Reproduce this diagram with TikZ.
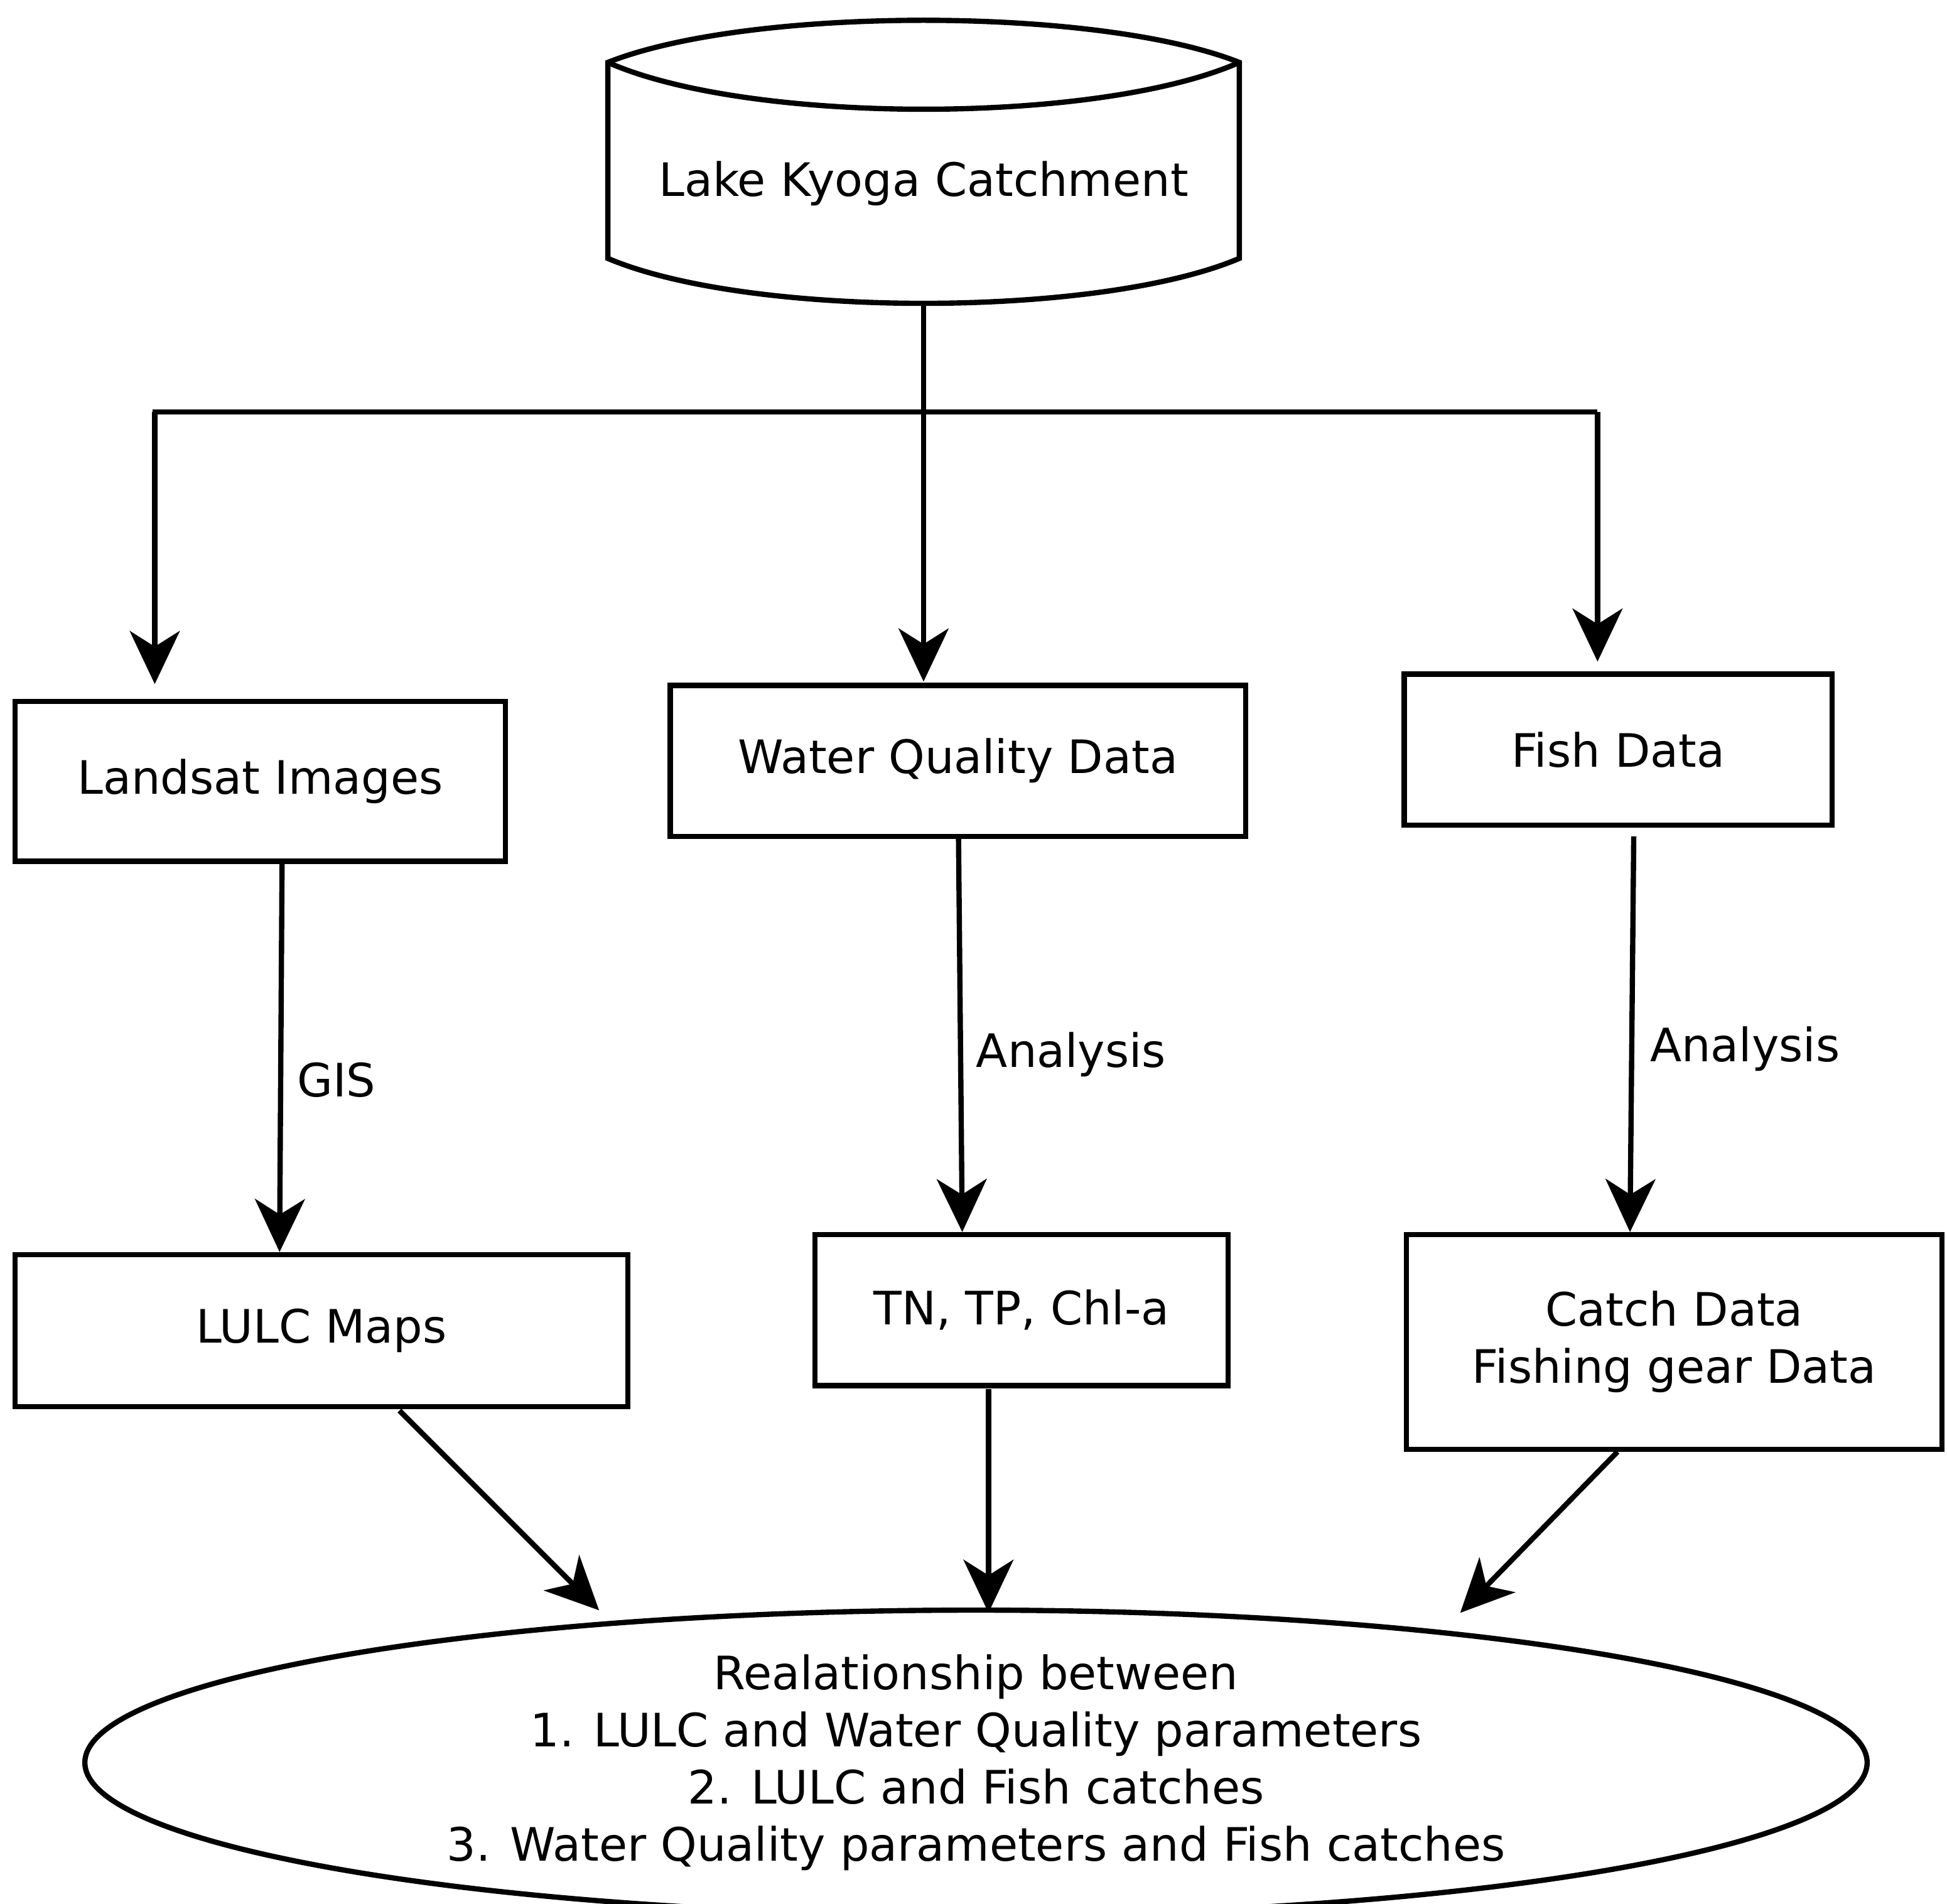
\documentclass[tikz,border=0pt]{standalone}
\usepackage{fontspec}
\setmainfont{DejaVu Sans}
\usetikzlibrary{arrows.meta,shapes.geometric}
\begin{document}
\begin{tikzpicture}[x=0.02cm,y=-0.02cm,
  box/.style={draw,line width=2.4pt,inner sep=0pt,font=\fontsize{21}{26}\selectfont},
  arr/.style={line width=2.4pt,-{Stealth[length=0.85cm,width=0.8cm,inset=0.25cm]}},
  lbl/.style={font=\fontsize{21}{26}\selectfont,anchor=west}]
\useasboundingbox (0,0) rectangle (1560,1525);
% top store shape
\draw[line width=2.4pt] (487,50) .. controls (600,5) and (880,5) .. (993,50)
  -- (993,207) .. controls (880,255) and (600,255) .. (487,207) -- cycle;
\draw[line width=2.4pt] (487,50) .. controls (600,100) and (880,100) .. (993,50);
\node[font=\fontsize{21}{26}\selectfont] (lake) at (740,147) {Lake Kyoga Catchment};
\coordinate (lakeb) at (740,242);
% boxes
\node[box,minimum width=393*0.02cm,minimum height=128*0.02cm] (land) at (208.5,626) {Landsat Images};
\node[box,minimum width=461*0.02cm,minimum height=121*0.02cm] (wq) at (767.5,609.5) {Water Quality Data};
\node[box,minimum width=343*0.02cm,minimum height=121*0.02cm] (fish) at (1296.5,600.5) {Fish Data};
\node[box,minimum width=491*0.02cm,minimum height=122*0.02cm] (lulc) at (257.5,1066) {LULC Maps};
\node[box,minimum width=331*0.02cm,minimum height=121*0.02cm] (tn) at (818.5,1049.5) {TN, TP, Chl-a};
\node[box,minimum width=429*0.02cm,minimum height=172*0.02cm,align=center] (catch) at (1341.5,1075) {Catch Data\\Fishing gear Data};
\node[draw,ellipse,line width=2.4pt,inner sep=0pt,minimum width=1428*0.02cm,minimum height=223*0.02cm,align=center,font=\fontsize{21}{26}\selectfont] (rel) at (782,1412) {Realationship between\\1. LULC and Water Quality parameters\\2. LULC and Fish catches\\3. Water Quality parameters and Fish catches};
% top distribution
\coordinate (jl) at (122,330); \coordinate (jr) at (1280,330);
\coordinate (tl) at (124,548); \coordinate (tm) at (740,546); \coordinate (tr) at (1280,530);
\draw[arr] (lakeb) -- (tm);
\draw[line width=2.4pt] (tl |- jl) ++(0,0) coordinate (a1);
\draw[arr] (a1) -- (tl);
\draw[line width=2.4pt] (jl) -- (jr);
\draw[arr] (jr) -- (tr);
% middle arrows
\coordinate (g1) at (226,690); \coordinate (g2) at (224,1003);
\draw[arr] (g1) -- (g2);
\node[lbl] (gis) at (232,865) {GIS};
\coordinate (w1) at (768,672); \coordinate (w2) at (771,987);
\draw[arr] (w1) -- (w2);
\node[lbl] (an1) at (776,845) {Analysis};
\coordinate (f1) at (1309,670); \coordinate (f2) at (1306,987);
\draw[arr] (f1) -- (f2);
\node[lbl] (an2) at (1316,840) {Analysis};
% bottom arrows
\coordinate (b1) at (320,1130); \coordinate (b1e) at (480,1290);
\coordinate (b2) at (792,1113); \coordinate (b2e) at (792,1292);
\coordinate (b3) at (1296,1163); \coordinate (b3e) at (1170,1292);
\draw[arr] (b1) -- (b1e);
\draw[arr] (b2) -- (b2e);
\draw[arr] (b3) -- (b3e);
\end{tikzpicture}
\end{document}
